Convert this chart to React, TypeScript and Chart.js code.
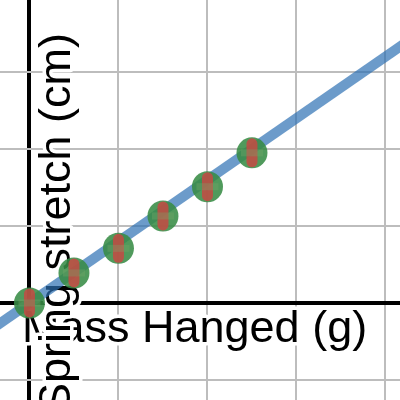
import { useEffect, useRef } from "react";
import Chart from "chart.js/auto";

const massGrams = [0, 50, 100, 150, 200, 250];
const stretchCm = [0, 0.39, 0.71, 1.13, 1.51, 1.95];

// ends of the fitted line
const fitLineX = [-40, 440];
const fitLineY = [-0.32, 3.52];

const xTickValues = [0, 100, 200, 300, 400];
const yTickValues = [-1, 0, 1, 2, 3];

const xLabel = "Mass Hanged (g)";
const yLabel = "Spring stretch (cm)";

const points = massGrams.map((x, i) => ({ x, y: stretchCm[i] }));
const fitLine = fitLineX.map((x, i) => ({ x, y: fitLineY[i] }));

const gridColor = (ctx: any) => (ctx.tick?.value === 0 ? "#000000" : "#bdbdbd");
const gridWidth = (ctx: any) => (ctx.tick?.value === 0 ? 4 : 2);

export default function App() {
  const canvasRef = useRef<HTMLCanvasElement | null>(null);

  useEffect(() => {
    if (!canvasRef.current) return;

    // axis labels with a white halo, like the graphing calculator draws them
    const axisLabels = {
      id: "axisLabels",
      beforeDatasetsDraw(chart: any) {
        const ctx = chart.ctx;
        ctx.save();
        ctx.font = "45px 'Liberation Sans', Arial, sans-serif";
        ctx.lineJoin = "round";
        ctx.lineWidth = 7;
        ctx.strokeStyle = "#ffffff";
        ctx.fillStyle = "#000000";
        ctx.textBaseline = "alphabetic";

        ctx.textAlign = "left";
        ctx.strokeText(xLabel, 22, 342);
        ctx.fillText(xLabel, 22, 342);

        ctx.translate(70, 223);
        ctx.rotate(-Math.PI / 2);
        ctx.textAlign = "center";
        ctx.strokeText(yLabel, 0, 0);
        ctx.fillText(yLabel, 0, 0);
        ctx.restore();
      },
    };

    // rounded ends for the red vertical bars
    const roundCaps = {
      id: "roundCaps",
      beforeDatasetDraw(chart: any, args: any) {
        if (args.index === 1) chart.ctx.lineCap = "round";
      },
      afterDatasetDraw(chart: any, args: any) {
        if (args.index === 1) chart.ctx.lineCap = "butt";
      },
    };

    const chart = new Chart(canvasRef.current, {
      type: "scatter",
      data: {
        datasets: [
          {
            data: points,
            pointStyle: "line",
            pointRadius: 11,
            pointBorderWidth: 7,
            pointBorderColor: "rgba(120, 165, 105, 0.35)",
            order: 1,
          },
          {
            data: points,
            pointStyle: "line",
            pointRotation: 90,
            pointRadius: 9,
            pointBorderWidth: 11,
            pointBorderColor: "rgba(205, 70, 66, 0.8)",
            order: 2,
          },
          {
            data: points,
            pointStyle: "circle",
            pointRadius: 15.5,
            pointBorderWidth: 0,
            pointBackgroundColor: "rgba(56, 140, 70, 0.88)",
            order: 3,
          },
          {
            data: fitLine,
            showLine: true,
            pointRadius: 0,
            borderWidth: 10,
            borderColor: "rgba(45, 112, 179, 0.7)",
            order: 4,
          },
        ],
      },
      options: {
        animation: false,
        responsive: false,
        layout: { padding: 0, autoPadding: false },
        plugins: {
          legend: { display: false },
          tooltip: { enabled: false },
        },
        scales: {
          x: {
            type: "linear",
            min: -33.1,
            max: 416.3,
            afterBuildTicks: (scale: any) => {
              scale.ticks = xTickValues.map((value) => ({ value }));
            },
            ticks: { display: false },
            border: { display: false },
            grid: { color: gridColor, lineWidth: gridWidth, drawTicks: false },
          },
          y: {
            type: "linear",
            min: -1.26,
            max: 3.935,
            afterBuildTicks: (scale: any) => {
              scale.ticks = yTickValues.map((value) => ({ value }));
            },
            ticks: { display: false },
            border: { display: false },
            grid: { color: gridColor, lineWidth: gridWidth, drawTicks: false },
          },
        },
      },
      plugins: [axisLabels, roundCaps],
    });

    return () => chart.destroy();
  }, []);

  return (
    <div
      style={{
        position: "fixed",
        left: 0,
        top: 0,
        width: 400,
        height: 400,
        background: "#ffffff",
      }}
    >
      <canvas ref={canvasRef} width={400} height={400} />
    </div>
  );
}
